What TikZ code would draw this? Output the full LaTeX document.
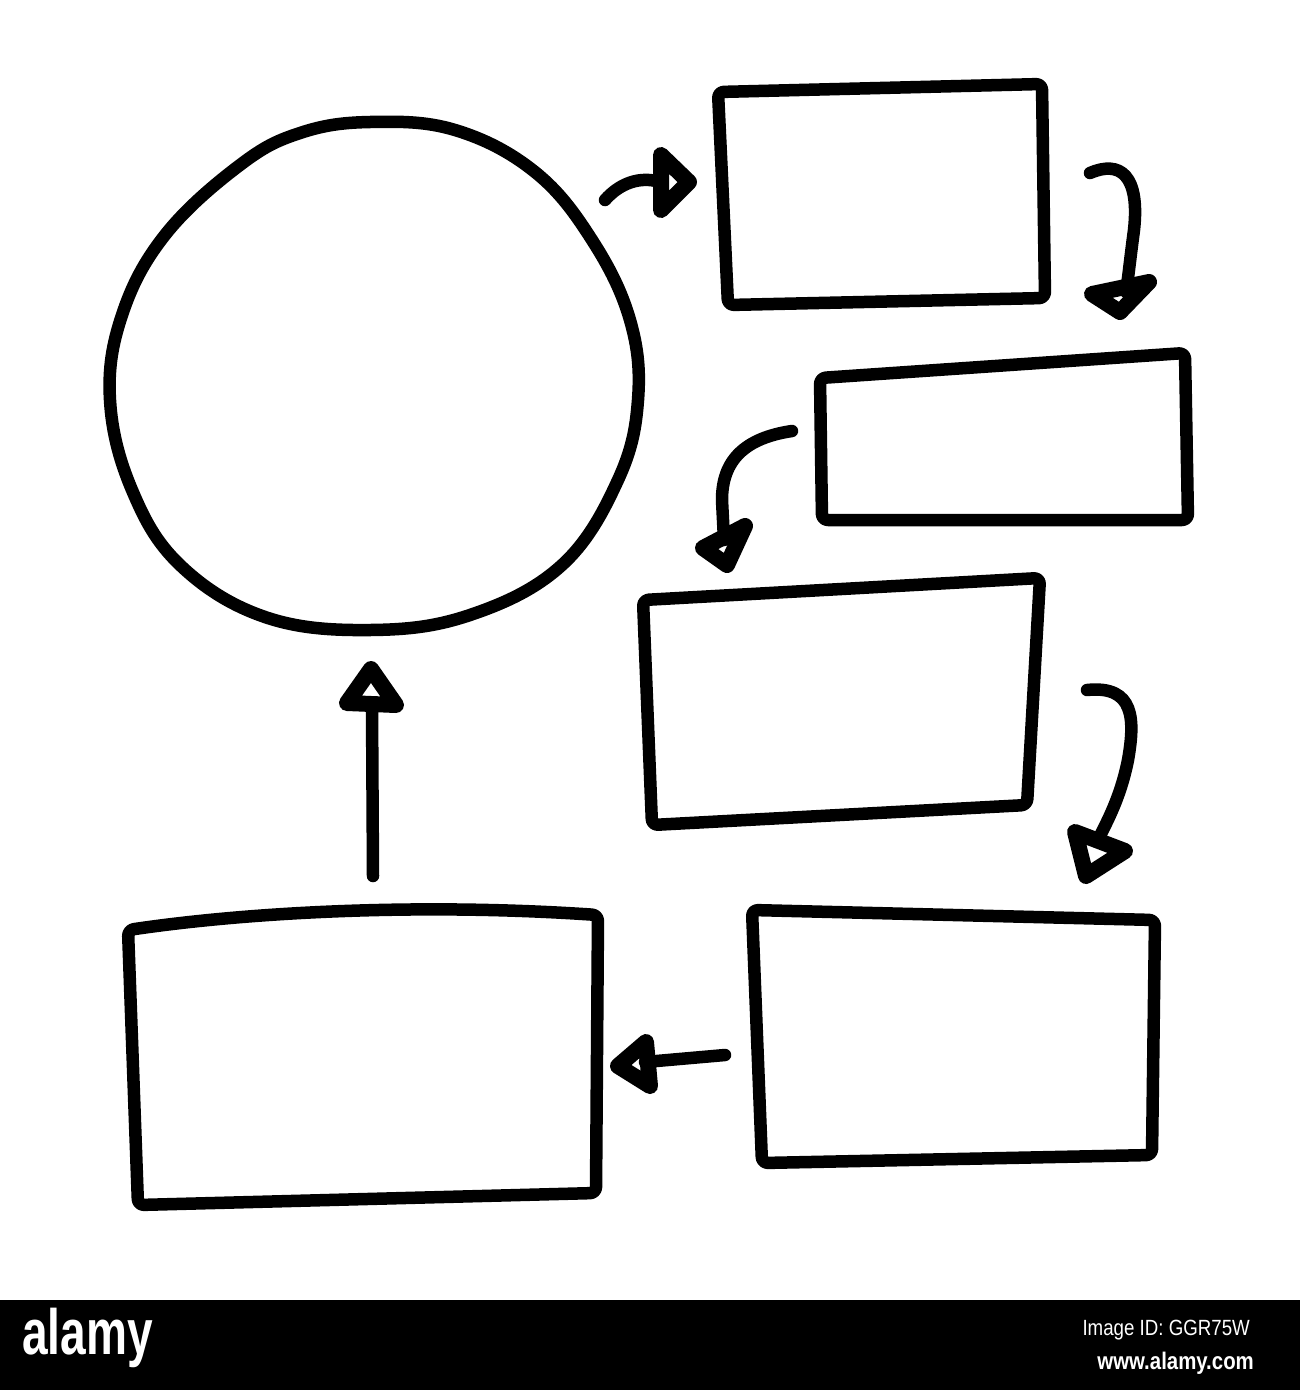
\documentclass[tikz,border=0pt]{standalone}
\usepackage{fontspec}
\setsansfont{Liberation Sans}
\tikzset{
  ink/.style={line width=12.5pt, line cap=round, line join=round, draw=black},
  boxline/.style={ink, rounded corners=6pt},
  head/.style={ink, line width=16pt},
}
\begin{document}
\begin{tikzpicture}[x=1pt,y=-1pt]
\useasboundingbox (0,0) rectangle (1300,1390);
\fill[white] (0,0) rectangle (1300,1390);
% circle (hand drawn)
\draw[ink] plot[smooth cycle, tension=0.65] coordinates {
  (370,122) (455,130) (535,172) (592,240) (630,320) (638,400) (618,480)
  (562,565) (470,615) (370,630) (265,617) (180,565) (132,490) (110,400)
  (122,315) (165,235) (240,165) (300,133)};
% boxes
\draw[boxline] (718,92) -- (1042,84) -- (1045,298) -- (728,305) -- cycle;
\draw[boxline] (820,378) -- (1185,353) -- (1188,520) -- (822,520) -- cycle;
\draw[boxline] (643,600) -- (1040,578) -- (1027,805) -- (652,825) -- cycle;
\draw[boxline] (752,910) -- (1155,920) -- (1152,1155) -- (762,1163) -- cycle;
\draw[boxline] (128,930) .. controls (250,912) and (420,903) .. (598,915) -- (596,1193) -- (138,1205) -- cycle;
% connector 1
\coordinate (a1s) at (605,200);
\coordinate (a1b) at (660,182);
\coordinate (a1t) at (689,182);
\draw[ink] (a1s) .. controls (620,183) and (640,176) .. (a1b);
\draw[head] (a1t) -- (661,155) -- (661,210) -- cycle;
% connector 2
\coordinate (a2s) at (1090,173);
\coordinate (a2b) at (1126,292);
\coordinate (a2t) at (1120,312);
\draw[ink] (a2s) .. controls (1120,160) and (1140,175) .. (1134,230) .. controls (1130,260) and (1128,280) .. (a2b);
\draw[head] (a2t) -- (1092,294) -- (1149,282) -- cycle;
% connector 3
\coordinate (a3s) at (792,431);
\coordinate (a3b) at (724,540);
\coordinate (a3t) at (727,565);
\draw[ink] (a3s) .. controls (745,438) and (722,460) .. (722,500) -- (a3b);
\draw[head] (a3t) -- (703,548) -- (745,526) -- cycle;
% connector 4
\coordinate (a4s) at (1087,690);
\coordinate (a4b) at (1098,840);
\coordinate (a4t) at (1086,876);
\draw[ink] (a4s) .. controls (1135,685) and (1135,720) .. (1128,760) .. controls (1120,800) and (1105,825) .. (a4b);
\draw[head] (a4t) -- (1075,832) -- (1125,851) -- cycle;
% connector 5
\coordinate (a5s) at (725,1055);
\coordinate (a5b) at (645,1062);
\coordinate (a5t) at (618,1066);
\draw[ink] (a5s) -- (a5b);
\draw[head] (a5t) -- (646,1042) -- (650,1086) -- cycle;
% connector 6
\coordinate (a6s) at (373,876);
\coordinate (a6b) at (372,705);
\coordinate (a6t) at (371,669);
\draw[ink] (a6s) -- (a6b);
\draw[head] (a6t) -- (347,703) -- (396,705) -- cycle;
% watermark bar
\fill[black] (0,1300) rectangle (1300,1390);
\node[text=white, font=\sffamily\bfseries\fontsize{64}{64}\selectfont, xscale=0.72, anchor=west, inner sep=0] (logo) at (22,1338) {alamy};
\node[text=white, font=\sffamily\fontsize{22}{22}\selectfont, xscale=0.85, anchor=east, inner sep=0] (imgid) at (1250,1330) {Image ID: GGR75W};
\node[text=white, font=\sffamily\bfseries\fontsize{24}{24}\selectfont, xscale=0.85, anchor=east, inner sep=0] (web) at (1254,1363) {www.alamy.com};
\end{tikzpicture}
\end{document}
